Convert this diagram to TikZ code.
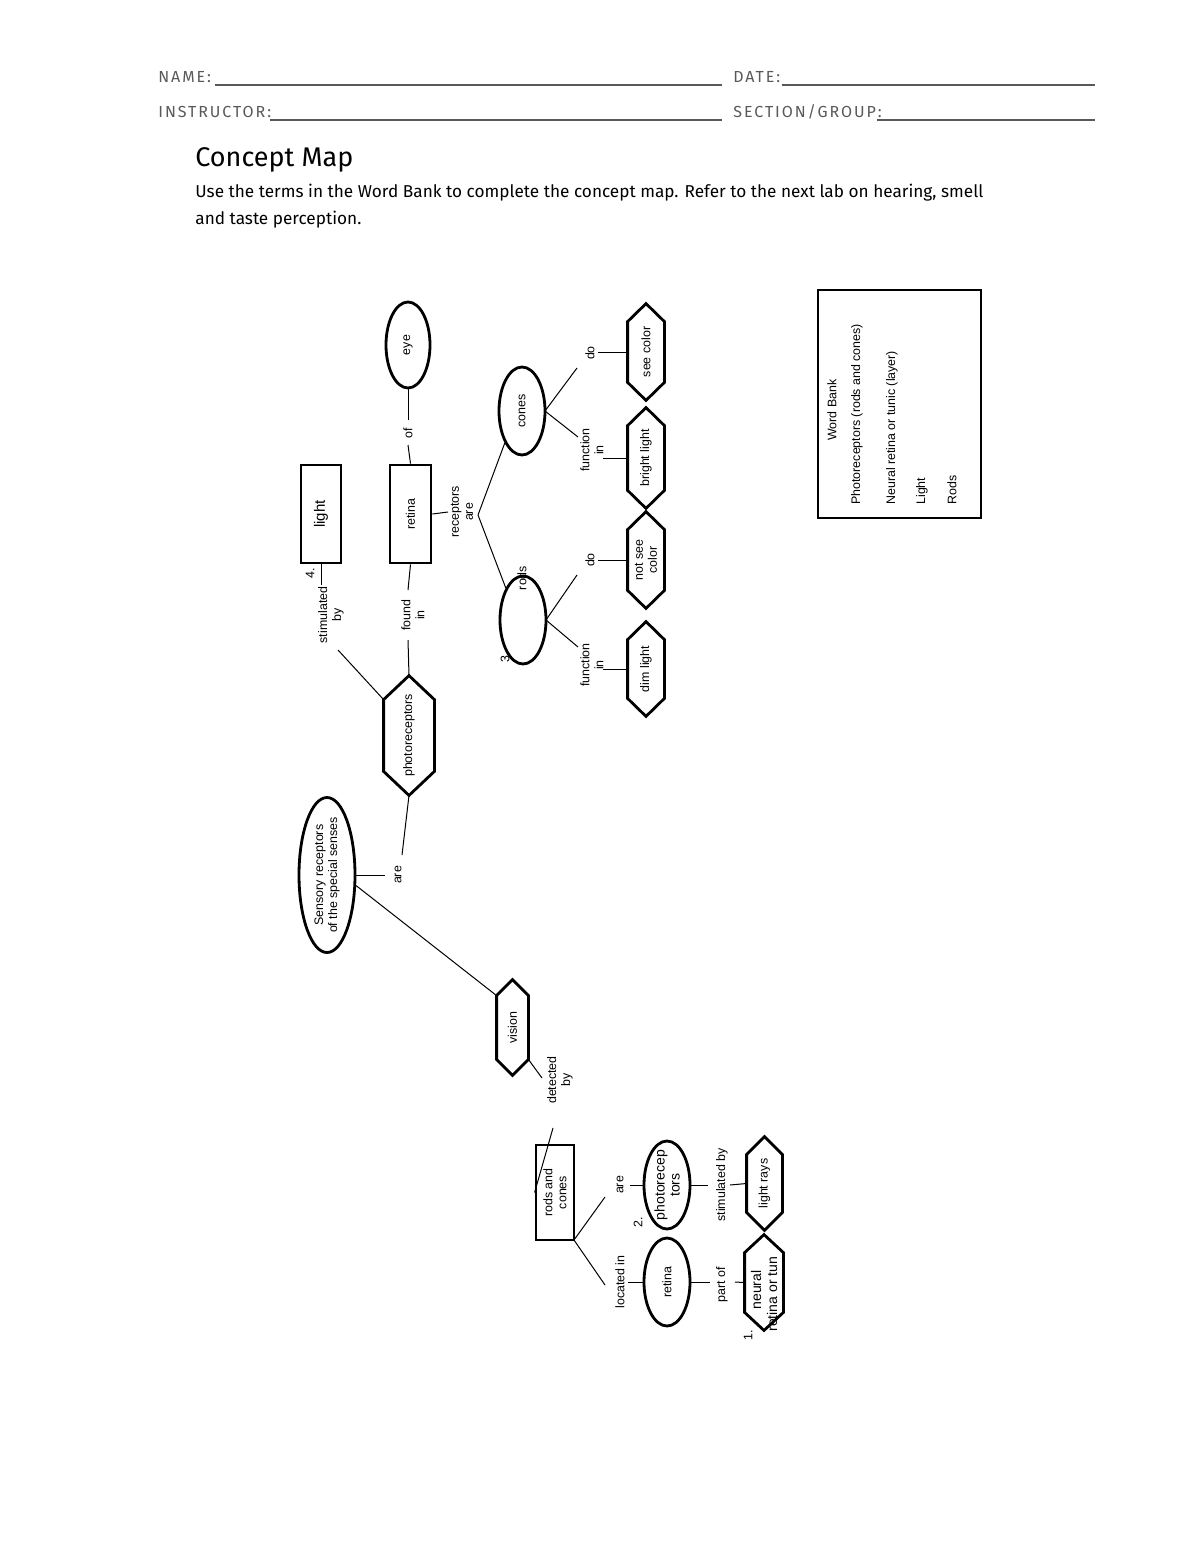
\documentclass[tikz,border=0pt]{standalone}
\usepackage{fontspec}
\setmainfont{Liberation Sans}
\newfontfamily\hdfont[LetterSpace=12]{Fira Sans}
\newfontfamily\ttlfont{Fira Sans}
\usetikzlibrary{calc,shapes.geometric}
\tikzset{
  lbl/.style={font=\fontsize{6.2}{7}\selectfont, rotate=90, align=center, inner sep=0pt},
  bx/.style={draw, line width=1.4pt, rotate=90, font=\fontsize{6.2}{7}\selectfont, align=center, inner sep=0pt},
  ell/.style={draw, ellipse, line width=1.4pt, inner sep=0pt},
  ln/.style={line width=0.5pt},
  hexn/.style={inner sep=0pt, minimum width=#1}
}
\newcommand{\hexa}[7]{% name cx cy w h text s
  \node[hexn=0pt, minimum width=#4, minimum height=#5] (#1) at (#2,#3) {};
  \node[lbl] at (#1.center) {#6};
  \draw[line width=1.4pt] (#1.north) -- ([yshift=-#7]#1.north east) -- ([yshift=#7]#1.south east) -- (#1.south) -- ([yshift=#7]#1.south west) -- ([yshift=-#7]#1.north west) -- cycle;
}
\begin{document}
\begin{tikzpicture}[x=0.5pt,y=-0.5pt]
\useasboundingbox (0,0) rectangle (1200,1553);
% header
\begin{scope}[color=black!65, font=\hdfont\fontsize{8}{9}\selectfont]
\node[anchor=base west, inner sep=0] (nm) at (158,82) {NAME:};
\node[anchor=base west, inner sep=0] (dt) at (733,82) {DATE:};
\node[anchor=base west, inner sep=0] (ins) at (158,117) {INSTRUCTOR:};
\node[anchor=base west, inner sep=0] (sec) at (733,117) {SECTION/GROUP:};
\draw[line width=0.7pt] (215,85) -- (722,85);
\draw[line width=0.7pt] (782,85) -- (1095,85);
\draw[line width=0.7pt] (270,120) -- (722,120);
\draw[line width=0.7pt] (877,120) -- (1095,120);
\end{scope}
\node[anchor=base west, inner sep=0, font=\ttlfont\fontsize{13.5}{15}\selectfont] (ttl) at (195,166) {Concept Map};
\node[anchor=base west, inner sep=0, font=\ttlfont\fontsize{8.6}{10}\selectfont] (t1) at (195,197) {Use the terms in the Word Bank to complete the concept map. Refer to the next lab on hearing, smell};
\node[anchor=base west, inner sep=0, font=\ttlfont\fontsize{8.6}{10}\selectfont] (t2) at (195,224) {and taste perception.};
% word bank
\draw[line width=1.4pt] (818,290) rectangle (981,518);
\node[lbl, anchor=center] (wb) at (832,410) {Word Bank};
\node[lbl, anchor=west] (wb1) at (857,505) {Photoreceptors (rods and cones)};
\node[lbl, anchor=west] (wb2) at (892,505) {Neural retina or tunic (layer)};
\node[lbl, anchor=west] (wb3) at (922,505) {Light};
\node[lbl, anchor=west] (wb4) at (952,505) {Rods};
% top nodes
\node[bx, minimum width=49pt, minimum height=20pt, font=\fontsize{7.5}{8}\selectfont] (light) at (321,514) {light};
\node[bx, minimum width=49pt, minimum height=20.5pt] (retina) at (410.5,514) {retina};
\node[ell, minimum width=22pt, minimum height=43pt] (eye) at (408,345) {};
\node[lbl] at (eye) {eye};
\node[lbl] (of) at (408,433) {of};
\draw[ln] (retina.east) -- (408,445);
\draw[ln] (408,420) -- (eye.south);
\node[lbl] (n4) at (310,573) {4.};
\draw[ln] (light.west) -- (321,585);
\node[lbl] (stim) at (331,615) {stimulated\\by};
\node[lbl] (found) at (413,615) {found\\in};
\draw[ln] (retina.west) -- (408,590);
\hexa{photo}{409}{735.5}{25pt}{59.5pt}{photoreceptors}{12pt}
\draw[ln] (408,640) -- (photo.north);
\draw[ln] (338,650) -- ([yshift=-12pt]photo.north west);
\node[lbl] (recp) at (462,512) {receptors\\are};
\draw[ln] (retina.south) -- (448,512);
\node[ell, minimum width=23pt, minimum height=44pt] (cones) at (522,411) {};
\node[lbl] at (cones) {cones};
\node[ell, minimum width=23pt, minimum height=44pt] (rods) at (523,620) {};
\node[lbl] at (522,578) {rods};
\node[lbl] (n3) at (505,657) {3.};
\coordinate (rp) at (478,515);
\draw[ln] (rp) -- (cones.south west);
\draw[ln] (rp) -- (rods.north west);
% cones branch
\coordinate (cj) at (545,411);
\node[lbl] (do1) at (590,353) {do};
\node[lbl] (fi1) at (592,450) {function\\in};
\draw[ln] (cj) -- (577,368);
\draw[ln] (cj) -- (578,437);
\hexa{seec}{646}{352}{18pt}{48pt}{see color}{9pt}
\hexa{brl}{646}{458}{18pt}{50pt}{bright light}{9pt}
\draw[ln] (598,352) -- (seec.west);
\draw[ln] (603,458) -- (brl.west);
% rods branch
\coordinate (rj) at (546,620);
\node[lbl] (do2) at (590,560) {do};
\node[lbl] (fi2) at (592,665) {function\\in};
\draw[ln] (rj) -- (577,575);
\draw[ln] (rj) -- (578,647);
\hexa{nsc}{646}{560}{18pt}{48pt}{not see\\color}{9pt}
\hexa{dim}{646}{669}{18pt}{47pt}{dim light}{9pt}
\draw[ln] (598,560) -- (nsc.west);
\draw[ln] (603,669) -- (dim.west);
% sensory
\node[ell, minimum width=28pt, minimum height=77.5pt] (sens) at (327,875) {};
\node[lbl] at (sens) {Sensory receptors\\of the special senses};
\node[lbl] (are1) at (398,875) {are};
\draw[ln] (sens.east) -- (385,875);
\draw[ln] (402,855) -- (photo.south);
\hexa{vis}{512.5}{1027.5}{15.5pt}{47.5pt}{vision}{8pt}
\draw[ln] (sens.-20) -- ([yshift=-8pt]vis.north west);
\node[lbl] (det) at (560,1080) {detected\\by};
\draw[ln] ([yshift=8pt]vis.south east) -- (542,1078);
\node[bx, minimum width=47.5pt, minimum height=19pt] (rc) at (555,1192.5) {rods and\\cones};
\draw[ln] (rc.north) -- (553,1128);
\coordinate (rcc) at (574,1240);
\node[lbl] (are2) at (620,1185) {are};
\node[lbl] (loc) at (620,1282) {located in};
\draw[ln] (rcc) -- (605,1197);
\draw[ln] (rcc) -- (605,1285);
\node[ell, minimum width=23pt, minimum height=44pt] (pr2) at (667,1185) {};
\node[lbl, font=\fontsize{7}{7.5}\selectfont] at (pr2) {photorecep\\tors};
\node[lbl] (n2) at (638,1222) {2.};
\node[ell, minimum width=23pt, minimum height=44pt] (ret2) at (667,1282) {};
\node[lbl] at (ret2) {retina};
\draw[ln] (630,1185) -- (pr2.west);
\draw[ln] (628,1282) -- (ret2.west);
\node[lbl] (stb) at (722,1185) {stimulated by};
\draw[ln] (pr2.east) -- (708,1185);
\hexa{lr}{764.5}{1183.5}{17.5pt}{46.5pt}{light rays}{9pt}
\draw[ln] (730,1185) -- (lr.west);
\node[lbl] (pof) at (722,1285) {part of};
\draw[ln] (ret2.east) -- (710,1282);
\hexa{nr}{764}{1282.5}{19pt}{47.5pt}{}{9pt}
\node[lbl, font=\fontsize{7}{7.5}\selectfont, text width=0pt] at (764,1282) {};
\node[lbl, font=\fontsize{7}{7.5}\selectfont] at (756,1290) {neural};
\node[lbl, font=\fontsize{7}{7.5}\selectfont, anchor=west] at (772,1332) {retina or tun};
\draw[ln] (735,1282) -- (nr.west);
\node[lbl] (n1) at (748,1335) {1.};
\end{tikzpicture}
\end{document}
